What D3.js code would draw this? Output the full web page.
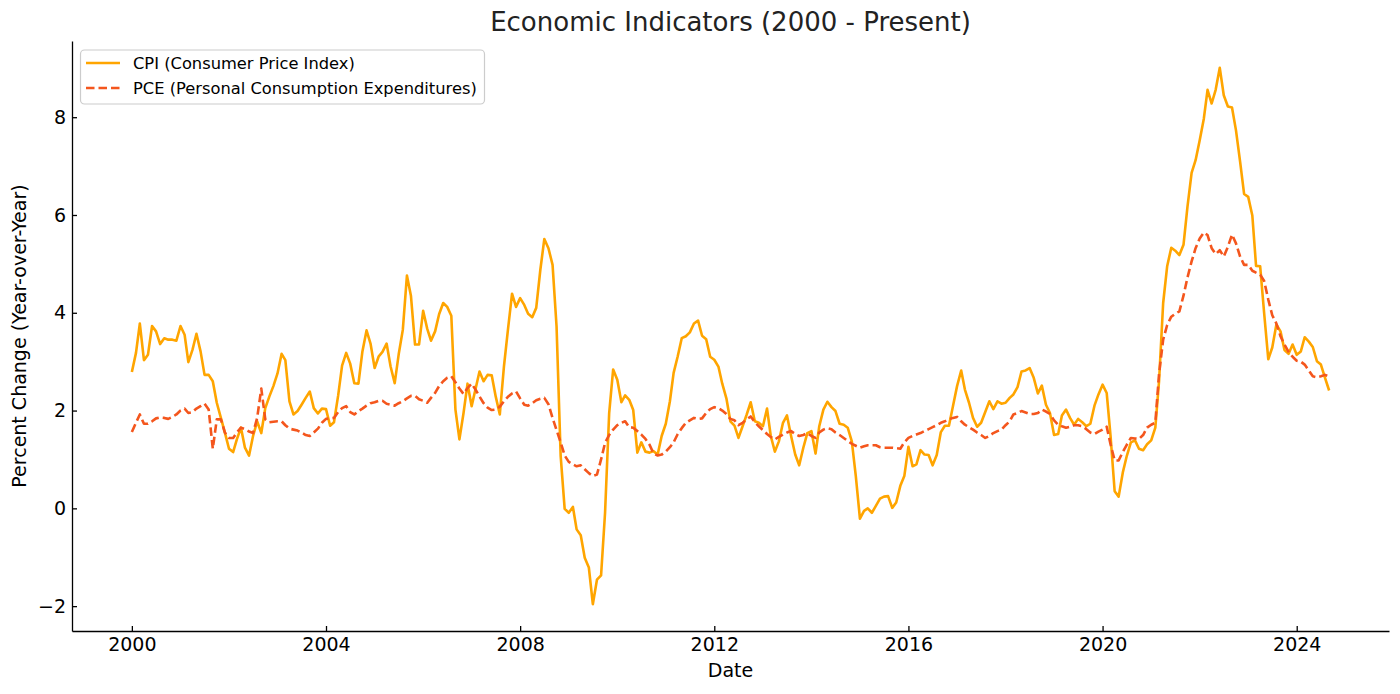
<!DOCTYPE html>
<html>
<head>
<meta charset="utf-8">
<script src="https://cdn.jsdelivr.net/npm/d3@7"></script>
<style>
  body { margin: 0; background: #fff; }
  text { font-family: "DejaVu Sans", sans-serif; }
</style>
</head>
<body>
<div id="chart"></div>
<script>
// first month of the series, one value per month from here on
var firstMonth = "2000-01";

// CPI, year-over-year % change (Jan 2000 - Sep 2024)
var cpiValues = [
  2.79, 3.18, 3.78, 3.03, 3.14, 3.73, 3.62, 3.36, 3.48, 3.45, 3.45, 3.43,   // 2000
  3.73, 3.55, 2.99, 3.24, 3.57, 3.21, 2.73, 2.73, 2.60, 2.16, 1.85, 1.55,   // 2001
  1.22, 1.15, 1.41, 1.65, 1.24, 1.08, 1.48, 1.78, 1.54, 2.05, 2.29, 2.50,   // 2002
  2.76, 3.16, 3.03, 2.19, 1.92, 1.99, 2.12, 2.26, 2.39, 2.05, 1.94, 2.04,   // 2003
  2.03, 1.69, 1.76, 2.30, 2.92, 3.18, 2.96, 2.56, 2.55, 3.21, 3.64, 3.37,   // 2004
  2.87, 3.11, 3.20, 3.37, 2.90, 2.56, 3.15, 3.65, 4.76, 4.35, 3.35, 3.35,   // 2005
  4.04, 3.67, 3.43, 3.62, 3.97, 4.20, 4.12, 3.94, 2.02, 1.41, 1.95, 2.55,   // 2006
  2.09, 2.46, 2.80, 2.60, 2.73, 2.72, 2.29, 1.92, 2.90, 3.65, 4.39, 4.12,   // 2007
  4.30, 4.16, 3.98, 3.91, 4.10, 4.88, 5.51, 5.32, 4.98, 3.72, 1.07, -0.01,  // 2008
  -0.09, 0.03, -0.43, -0.55, -1.01, -1.21, -1.96, -1.46, -1.37, -0.09, 1.95, 2.84, // 2009
  2.63, 2.17, 2.31, 2.22, 2.01, 1.14, 1.35, 1.16, 1.14, 1.17, 1.10, 1.48,   // 2010
  1.73, 2.19, 2.77, 3.11, 3.48, 3.52, 3.60, 3.78, 3.84, 3.53, 3.46, 3.10,   // 2011
  3.04, 2.90, 2.55, 2.25, 1.78, 1.69, 1.44, 1.68, 1.92, 2.17, 1.78, 1.75,   // 2012
  1.68, 2.04, 1.48, 1.16, 1.37, 1.75, 1.90, 1.48, 1.10, 0.88, 1.24, 1.54,   // 2013
  1.58, 1.12, 1.68, 2.02, 2.18, 2.07, 1.99, 1.73, 1.71, 1.65, 1.37, 0.66,   // 2014
  -0.21, -0.05, 0.00, -0.09, 0.05, 0.20, 0.24, 0.25, 0.01, 0.12, 0.46, 0.66, // 2015
  1.26, 0.86, 0.90, 1.19, 1.10, 1.09, 0.88, 1.09, 1.56, 1.69, 1.69, 2.09,   // 2016
  2.50, 2.82, 2.43, 2.16, 1.85, 1.67, 1.75, 1.97, 2.19, 2.03, 2.19, 2.14,   // 2017
  2.16, 2.26, 2.33, 2.48, 2.80, 2.82, 2.87, 2.67, 2.35, 2.51, 2.12, 1.95,   // 2018
  1.50, 1.52, 1.90, 2.02, 1.85, 1.71, 1.83, 1.76, 1.68, 1.73, 2.10, 2.33,   // 2019
  2.53, 2.36, 1.48, 0.35, 0.24, 0.73, 1.07, 1.35, 1.39, 1.22, 1.19, 1.31,   // 2020
  1.39, 1.65, 2.60, 4.20, 4.95, 5.33, 5.27, 5.18, 5.39, 6.17, 6.86, 7.12,   // 2021
  7.53, 7.97, 8.56, 8.28, 8.56, 9.01, 8.45, 8.22, 8.20, 7.73, 7.09, 6.43,   // 2022
  6.37, 5.99, 4.96, 4.95, 3.99, 3.05, 3.29, 3.76, 3.62, 3.24, 3.16, 3.35,   // 2023
  3.14, 3.21, 3.50, 3.41, 3.30, 3.01, 2.94, 2.67, 2.41                      // 2024
];

// PCE, year-over-year % change (Jan 2000 - Sep 2024)
var pceValues = [
  1.56, 1.75, 1.92, 1.73, 1.73, 1.78, 1.84, 1.86, 1.85, 1.83, 1.87, 1.92,   // 2000
  2.00, 2.04, 1.95, 1.97, 2.04, 2.09, 2.14, 2.02, 1.22, 1.82, 1.82, 1.55,   // 2001
  1.44, 1.44, 1.55, 1.65, 1.62, 1.57, 1.54, 1.85, 2.45, 1.82, 1.76, 1.77,   // 2002
  1.78, 1.78, 1.70, 1.63, 1.61, 1.59, 1.55, 1.50, 1.48, 1.55, 1.63, 1.75,   // 2003
  1.83, 1.84, 1.85, 1.97, 2.05, 2.09, 1.97, 1.92, 1.99, 2.04, 2.10, 2.15,   // 2004
  2.17, 2.20, 2.20, 2.14, 2.12, 2.10, 2.15, 2.19, 2.25, 2.30, 2.30, 2.23,   // 2005
  2.20, 2.16, 2.26, 2.36, 2.50, 2.60, 2.67, 2.70, 2.58, 2.45, 2.34, 2.46,   // 2006
  2.55, 2.42, 2.29, 2.15, 2.06, 2.01, 2.02, 2.08, 2.19, 2.28, 2.35, 2.39,   // 2007
  2.25, 2.12, 2.10, 2.15, 2.21, 2.24, 2.26, 2.13, 1.85, 1.60, 1.35, 1.08,   // 2008
  0.95, 0.90, 0.86, 0.88, 0.80, 0.72, 0.66, 0.69, 1.00, 1.34, 1.50, 1.61,   // 2009
  1.70, 1.75, 1.78, 1.66, 1.65, 1.58, 1.51, 1.42, 1.30, 1.12, 1.08, 1.10,   // 2010
  1.16, 1.25, 1.35, 1.52, 1.64, 1.75, 1.80, 1.85, 1.83, 1.84, 1.95, 2.03,   // 2011
  2.07, 2.05, 2.00, 1.93, 1.83, 1.80, 1.70, 1.75, 1.82, 1.88, 1.76, 1.68,   // 2012
  1.60, 1.52, 1.46, 1.41, 1.46, 1.51, 1.55, 1.58, 1.52, 1.48, 1.50, 1.54,   // 2013
  1.48, 1.44, 1.55, 1.61, 1.64, 1.62, 1.55, 1.50, 1.44, 1.38, 1.32, 1.28,   // 2014
  1.24, 1.27, 1.29, 1.29, 1.29, 1.25, 1.24, 1.24, 1.24, 1.23, 1.22, 1.35,   // 2015
  1.44, 1.48, 1.51, 1.54, 1.58, 1.62, 1.66, 1.70, 1.75, 1.78, 1.82, 1.85,   // 2016
  1.87, 1.78, 1.71, 1.66, 1.61, 1.55, 1.50, 1.44, 1.48, 1.54, 1.58, 1.61,   // 2017
  1.70, 1.78, 1.92, 1.95, 1.99, 1.96, 1.93, 1.93, 1.95, 2.02, 1.98, 1.93,   // 2018
  1.80, 1.71, 1.68, 1.65, 1.67, 1.70, 1.70, 1.68, 1.62, 1.55, 1.52, 1.57,   // 2019
  1.61, 1.67, 1.31, 0.98, 0.98, 1.15, 1.30, 1.44, 1.43, 1.42, 1.50, 1.65,   // 2020
  1.71, 1.75, 2.75, 3.45, 3.75, 3.92, 3.98, 4.03, 4.35, 4.72, 5.05, 5.32,   // 2021
  5.52, 5.64, 5.59, 5.32, 5.20, 5.28, 5.15, 5.35, 5.60, 5.42, 5.15, 4.98,   // 2022
  4.98, 4.86, 4.82, 4.78, 4.65, 4.27, 3.95, 3.78, 3.52, 3.35, 3.20, 3.10,   // 2023
  3.02, 3.00, 2.94, 2.82, 2.70, 2.68, 2.70, 2.73, 2.70                      // 2024
];

var seriesNames = ["CPI (Consumer Price Index)", "PCE (Personal Consumption Expenditures)"];
var xTickYears = [2000, 2004, 2008, 2012, 2016, 2020, 2024];
var yTicks = [-2, 0, 2, 4, 6, 8];

// size of the figure and the plot box inside it
var W = 1400, H = 694;
var plot = {left: 72, right: 1389, top: 41, bottom: 631};

var colCPI = "#ffa500",
    colPCE = "#f4561d";

var svg = d3.select("#chart")
    .append("svg")
    .attr("width", W)
    .attr("height", H);

// month dates for every value
var start = d3.timeParse("%Y-%m")(firstMonth);
var cpi = cpiValues.map(function (v, i) { return {date: d3.timeMonth.offset(start, i), value: v}; });
var pce = pceValues.map(function (v, i) { return {date: d3.timeMonth.offset(start, i), value: v}; });

//////////
// SCALES (5% padding like matplotlib)
//////////
var t0 = cpi[0].date.getTime(), t1 = cpi[cpi.length - 1].date.getTime();
var tpad = (t1 - t0) * 0.05;
var x = d3.scaleTime()
    .domain([new Date(t0 - tpad), new Date(t1 + tpad)])
    .range([plot.left, plot.right]);

var all = cpiValues.concat(pceValues);
var lo = d3.min(all), hi = d3.max(all), vpad = (hi - lo) * 0.05;
var y = d3.scaleLinear()
    .domain([lo - vpad, hi + vpad])
    .range([plot.bottom, plot.top]);

//////////
// AXIS
//////////
var xAxis = svg.append("g")
    .attr("transform", "translate(0," + plot.bottom + ")")
    .call(d3.axisBottom(x)
        .tickValues(xTickYears.map(function (yr) { return new Date(yr, 0, 1); }))
        .tickFormat(d3.timeFormat("%Y"))
        .tickSizeInner(-5).tickSizeOuter(0).tickPadding(7));

var yAxis = svg.append("g")
    .attr("transform", "translate(" + plot.left + ",0)")
    .call(d3.axisLeft(y)
        .tickValues(yTicks)
        .tickSizeInner(-5).tickSizeOuter(0).tickPadding(6));

[xAxis, yAxis].forEach(function (g) {
    g.attr("font-family", "DejaVu Sans").attr("font-size", 19);
    g.selectAll("text").attr("fill", "#000");
    g.selectAll("line").attr("stroke", "#000").attr("stroke-width", 1.3);
    g.select(".domain").attr("stroke", "#000").attr("stroke-width", 1.3);
});

// axis labels + title
svg.append("text")
    .attr("x", (plot.left + plot.right) / 2)
    .attr("y", 677)
    .attr("text-anchor", "middle")
    .attr("font-size", 19)
    .text("Date");

svg.append("text")
    .attr("transform", "translate(26," + (plot.top + plot.bottom) / 2 + ") rotate(-90)")
    .attr("text-anchor", "middle")
    .attr("font-size", 19)
    .text("Percent Change (Year-over-Year)");

svg.append("text")
    .attr("x", (plot.left + plot.right) / 2)
    .attr("y", 31)
    .attr("text-anchor", "middle")
    .attr("font-size", 26)
    .attr("fill", "#222")
    .text("Economic Indicators (2000 - Present)");

//////////
// LINES
//////////
var line = d3.line()
    .x(function (d) { return x(d.date); })
    .y(function (d) { return y(d.value); });

svg.append("path")
    .datum(cpi)
    .attr("fill", "none")
    .attr("stroke", colCPI)
    .attr("stroke-width", 2.6)
    .attr("stroke-linejoin", "round")
    .attr("d", line);

svg.append("path")
    .datum(pce)
    .attr("fill", "none")
    .attr("stroke", colPCE)
    .attr("stroke-width", 2.6)
    .attr("stroke-dasharray", "8.5,4")
    .attr("stroke-linejoin", "round")
    .attr("d", line);

//////////
// LEGEND
//////////
var legend = svg.append("g");
legend.append("rect")
    .attr("x", 80.5).attr("y", 50)
    .attr("width", 404).attr("height", 54)
    .attr("rx", 4)
    .attr("fill", "#fff").attr("fill-opacity", 0.8)
    .attr("stroke", "#cccccc").attr("stroke-width", 1.2);

var styles = [{c: colCPI, dash: null}, {c: colPCE, dash: "8.5,4"}];
seriesNames.forEach(function (name, i) {
    var ly = 63 + i * 25;
    legend.append("line")
        .attr("x1", 86).attr("x2", 120)
        .attr("y1", ly).attr("y2", ly)
        .attr("stroke", styles[i].c)
        .attr("stroke-width", 2.6)
        .attr("stroke-dasharray", styles[i].dash);
    legend.append("text")
        .attr("x", 133).attr("y", ly)
        .attr("dy", "0.35em")
        .attr("font-size", 16.3)
        .attr("fill", "#000")
        .text(name);
});
</script>
</body>
</html>
